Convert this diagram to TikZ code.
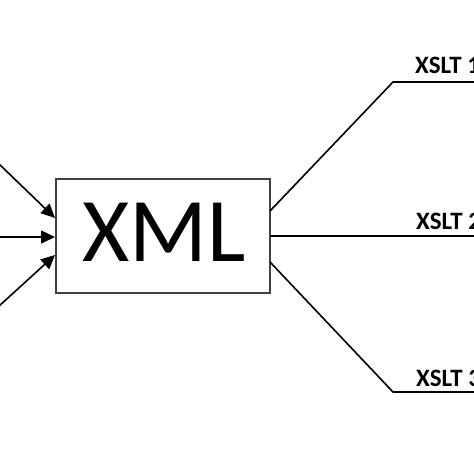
\documentclass[tikz,border=0pt]{standalone}
\usepackage{fontspec}
\setmainfont{Carlito}
\usetikzlibrary{arrows.meta}
\begin{document}
\begin{tikzpicture}[x=1pt,y=-1pt,
  conn/.style={line width=1.6pt, black},
  inarrow/.style={conn, -{Triangle[length=14pt,width=13pt]}},
  box/.style={draw=black!75, line width=1.2pt, fill=white, minimum width=214pt, minimum height=114pt, inner sep=0pt},
  lbl/.style={font=\bfseries\fontsize{25}{25}\selectfont, anchor=base west, inner sep=0pt}]
\useasboundingbox (0,0) rectangle (474,474);
\clip (0,0) rectangle (474,474);
\fill[white] (0,0) rectangle (474,474);
% box
\node[box] (xml) at (163,236) {};
\node[font=\fontsize{91}{91}\selectfont, inner sep=0pt, anchor=base] (xmltext) at (164,261) {XML};
% input arrows
\coordinate (a1) at (-2,163);
\coordinate (a2) at (-2,237);
\coordinate (a3) at (-2,307);
\coordinate (t1) at (55,218);
\coordinate (t2) at (55,237);
\coordinate (t3) at (55,255);
\draw[inarrow] (a1) -- (t1);
\draw[inarrow] (a2) -- (t2);
\draw[inarrow] (a3) -- (t3);
% outputs
\coordinate (o1) at (270,211);
\coordinate (o2) at (270,236);
\coordinate (o3) at (270,262);
\coordinate (c1) at (393,82);
\coordinate (c3) at (393,392);
\coordinate (e1) at (476,82);
\coordinate (e2) at (476,236);
\coordinate (e3) at (476,392);
\draw[conn] (o1) -- (c1) -- (e1);
\draw[conn] (o2) -- (e2);
\draw[conn] (o3) -- (c3) -- (e3);
\node[lbl] (x1) at (415,73) {XSLT 1};
\node[lbl] (x2) at (416,229) {XSLT 2};
\node[lbl] (x3) at (416,386) {XSLT 3};
\end{tikzpicture}
\end{document}
